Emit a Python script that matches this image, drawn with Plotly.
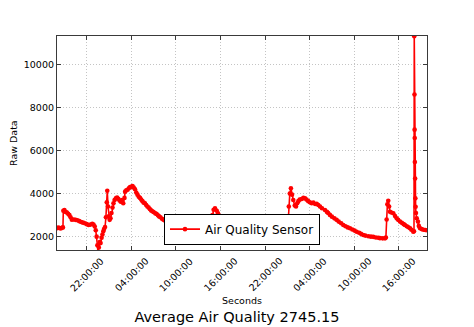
import pandas as pd
import plotly.graph_objects as go

# Sensor log: minutes elapsed since the first reading, and the raw sensor value
start_time = "2016-05-10 18:00"
elapsed_min = [
    0, 10, 20, 30, 40, 48,
    51, 60, 70, 80, 90, 100, 110, 120, 135, 150, 165, 180, 195, 210, 225, 240,
    255, 270, 285, 295, 305, 313, 320, 326, 332, 338, 345, 352, 360, 367, 374,
    380, 388, 395, 402, 406, 412, 418, 425, 432, 440, 448, 456, 465, 475, 485,
    495, 505, 515, 525, 535, 545, 550, 560, 570, 580, 590, 600, 610, 620, 630,
    640, 650, 660, 670, 680, 690, 700, 710, 720, 730, 740, 750, 760, 770, 780,
    795, 805, 815, 825, 835, 848, 860, 875, 885, 896, 905, 915,
    940, 980, 1020, 1060, 1100, 1150, 1200, 1235,
    1245, 1255, 1265, 1276, 1290, 1300, 1315, 1333, 1345, 1360, 1375,
    1420, 1480, 1540, 1600, 1660, 1720, 1780, 1840, 1860,
    1866, 1872, 1880, 1889, 1898, 1908, 1920, 1930, 1940, 1949, 1960, 1976,
    1990, 2003, 2015, 2029, 2042, 2057, 2070, 2085, 2097, 2110, 2124, 2140,
    2164, 2180, 2190, 2204, 2220, 2240, 2258, 2275, 2295, 2312, 2330, 2348,
    2366, 2385, 2403, 2420, 2440, 2455, 2473, 2490, 2514, 2535, 2554, 2575,
    2595, 2608, 2630, 2649, 2656,
    2662, 2668, 2675, 2682, 2689, 2700, 2716, 2730, 2743, 2755, 2770, 2785,
    2800, 2810, 2825, 2838, 2851, 2862, 2877, 2883,
    2885, 2887, 2888, 2889, 2890, 2892, 2894, 2896, 2899, 2905, 2915, 2922,
    2932, 2945, 2960, 2975, 2988,
]
raw_values = [
    2390, 2420, 2400, 2380, 2410, 2430,
    3200, 3230, 3150, 3120, 3060, 3000, 2900, 2790, 2800, 2780, 2760, 2720, 2680, 2650, 2620, 2580,
    2540, 2560, 2600, 2560, 2470, 2300, 2000, 1600, 1300, 1500, 1750, 1700, 1950, 2100, 2250,
    2350, 2450, 2900, 3600, 4130, 3400, 2950, 2780, 2850, 3100, 3350, 3550, 3700, 3780, 3820,
    3760, 3680, 3620, 3700, 3550, 3800, 4090, 4150, 4180, 4250, 4300, 4320, 4350, 4280, 4200,
    4050, 3950, 3850, 3800, 3720, 3650, 3580, 3550, 3470, 3400, 3350, 3280, 3220, 3180, 3140,
    3080, 3050, 2990, 2940, 2900, 2830, 2780, 2740, 2720, 2700, 2650, 2580,
    2520, 2480, 2450, 2420, 2400, 2380, 2370, 2380,
    2600, 3000, 3250, 3320, 3200, 3085, 2950, 2850, 2780, 2680, 2600,
    2520, 2450, 2400, 2350, 2300, 2280, 2250, 2230, 2240,
    2600, 3400, 4000, 4250, 3950, 3700, 3450, 3400, 3550, 3650, 3720, 3750,
    3800, 3780, 3720, 3650, 3600, 3550, 3580, 3520, 3530, 3470, 3400, 3320,
    3240, 3150, 3100, 3010, 2930, 2850, 2780, 2700, 2620, 2540, 2480, 2430,
    2390, 2330, 2280, 2230, 2180, 2130, 2080, 2050, 2020, 2000, 1990, 1960,
    1950, 1930, 1920, 1920, 1960,
    2800, 3500, 3670, 3400, 3160, 3120, 3085, 2960, 2850, 2780, 2700, 2640,
    2580, 2540, 2480, 2440, 2390, 2320, 2230, 2250,
    11310, 8600, 6970, 6580, 5470, 4700, 3780, 3390, 3100, 2850, 2700, 2500,
    2390, 2350, 2320, 2310, 2300,
]

tick_times = [
    "2016-05-10 22:00", "2016-05-11 04:00", "2016-05-11 10:00", "2016-05-11 16:00",
    "2016-05-11 22:00", "2016-05-12 04:00", "2016-05-12 10:00", "2016-05-12 16:00",
]
tick_labels = ["22:00:00", "04:00:00", "10:00:00", "16:00:00",
               "22:00:00", "04:00:00", "10:00:00", "16:00:00"]
y_ticks = [2000, 4000, 6000, 8000, 10000]

series_name = "Air Quality Sensor"
title_text = "Average Air Quality 2745.15"

times = pd.Timestamp(start_time) + pd.to_timedelta(elapsed_min, unit="min")

FONT = "DejaVu Sans"
RED = "#ff0000"

fig = go.Figure()
fig.add_trace(go.Scatter(
    x=times, y=raw_values, mode="lines+markers", name=series_name,
    line=dict(color=RED, width=1.6),
    marker=dict(color=RED, size=4.6),
))

axis_common = dict(
    showline=True, linecolor="#3a3a3a", linewidth=1.2, mirror="ticks",
    ticks="inside", ticklen=4, tickcolor="#3a3a3a",
    showgrid=True, gridcolor="#c4c4c4", griddash="1px,2px", gridwidth=1,
    zeroline=False,
)

fig.update_xaxes(
    type="date", range=[times[0], times[-1]],
    tickvals=pd.to_datetime(tick_times), showticklabels=False,
    **axis_common,
)
fig.update_yaxes(
    range=[1380, 11320], tickvals=y_ticks, tickformat="d",
    tickfont=dict(family=FONT, size=9.5, color="black"),
    **axis_common,
)

# Rotated time labels centred under each tick
for t, lab in zip(pd.to_datetime(tick_times), tick_labels):
    fig.add_annotation(
        x=t, y=0, xref="x", yref="paper", yshift=-24, text=lab,
        textangle=-45, showarrow=False, xanchor="center", yanchor="middle",
        font=dict(family=FONT, size=9.5, color="black"),
    )

fig.add_annotation(
    x=0.5, y=0, xref="paper", yref="paper", yshift=-50, text="Seconds",
    showarrow=False, xanchor="center", yanchor="middle",
    font=dict(family=FONT, size=9.5, color="black"),
)
fig.add_annotation(
    x=0, y=0.5, xref="paper", yref="paper", xshift=-44, text="Raw Data",
    textangle=-90, showarrow=False, xanchor="center", yanchor="middle",
    font=dict(family=FONT, size=9.5, color="black"),
)

fig.update_layout(
    width=474, height=327,
    margin=dict(l=57, r=47, t=36, b=77),
    paper_bgcolor="white", plot_bgcolor="white",
    font=dict(family=FONT, color="black"),
    title=dict(text=title_text, x=0.5, xref="container", xanchor="center",
               y=0.03, yref="container", yanchor="middle",
               font=dict(family=FONT, size=14.5, color="black")),
    showlegend=True,
    legend=dict(x=0.5, xanchor="center", y=0.025, yanchor="bottom",
                bgcolor="white", bordercolor="black", borderwidth=1,
                font=dict(family=FONT, size=12, color="black")),
)

fig.write_html("out.html")
